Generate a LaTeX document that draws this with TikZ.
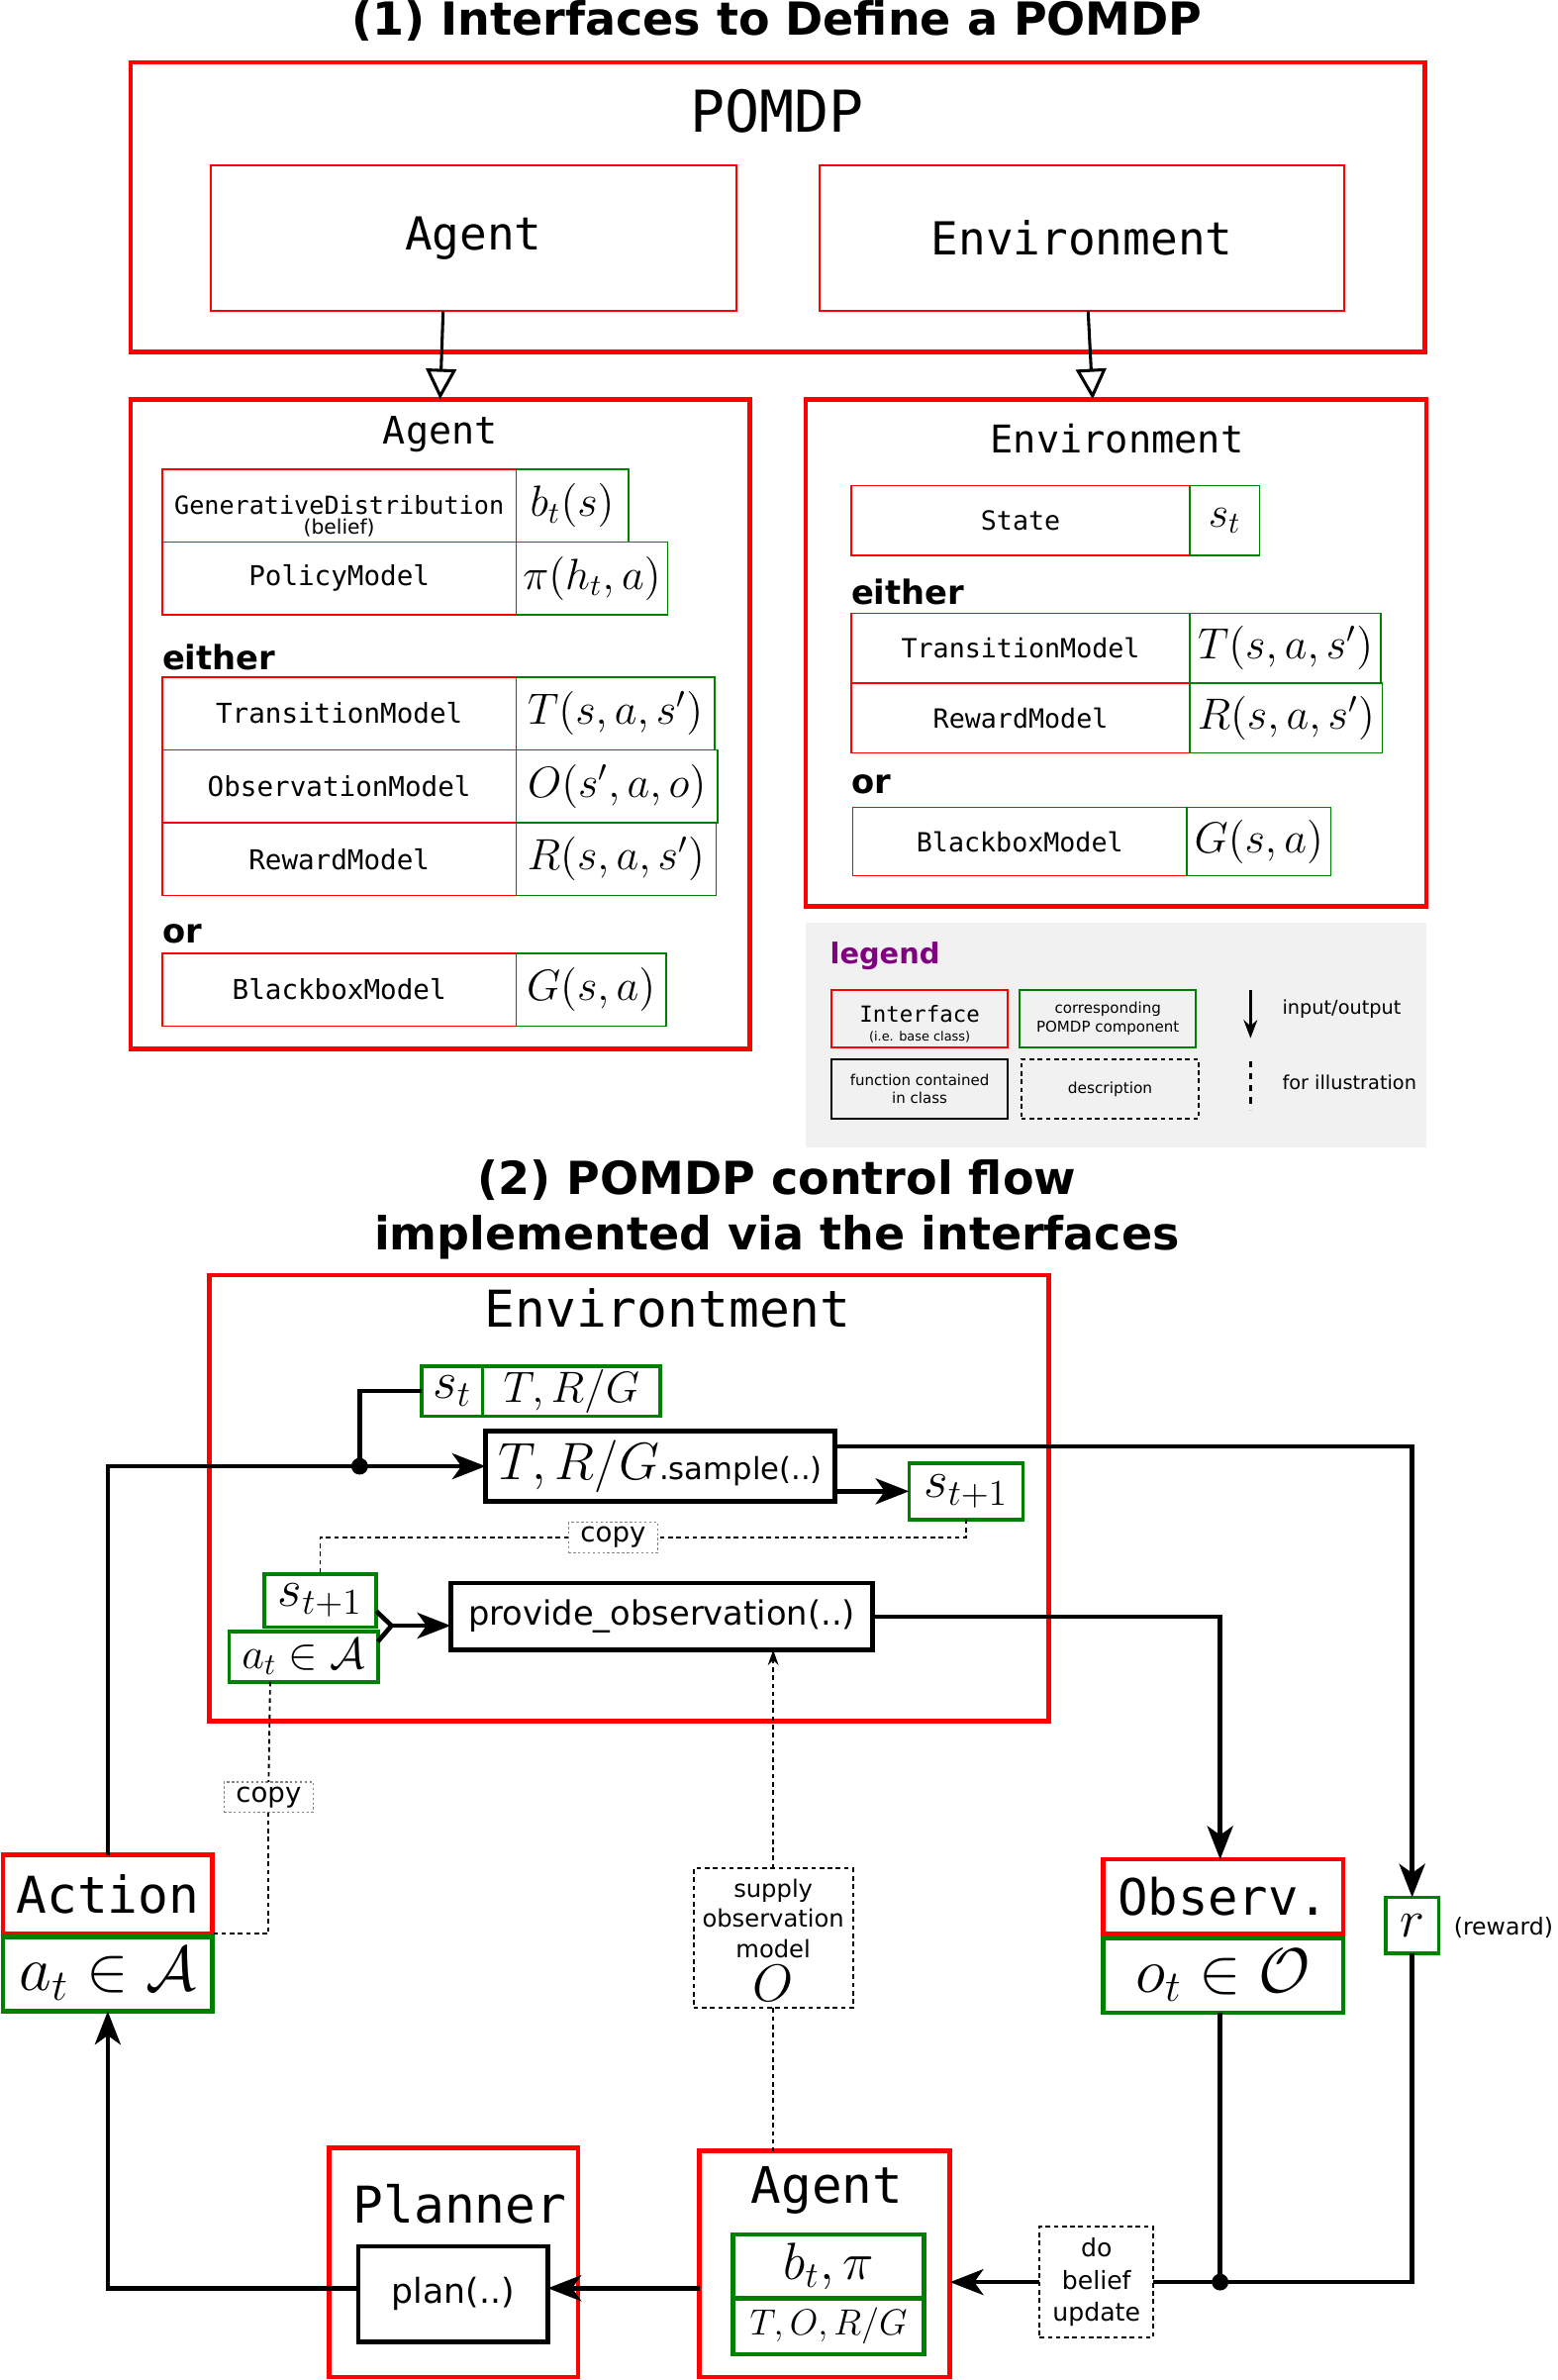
\documentclass[tikz,border=0pt]{standalone}
\usepackage{fontspec}
\setmainfont{DejaVu Sans}
\setmonofont{DejaVu Sans Mono}
\usepackage{tikz}
\usetikzlibrary{arrows.meta, positioning, calc}
\definecolor{compgreen}{rgb}{0, 0.5, 0}
\definecolor{legendpurple}{rgb}{0.5, 0, 0.5}
\definecolor{legendgray}{rgb}{0.945, 0.945, 0.945}
\newcommand{\fsz}[1]{\fontsize{#1}{#1}\selectfont}

\tikzset{
	bigcls/.style={draw=red, line width=1.5pt, anchor=north west},
	cls/.style={draw=red, line width=0.6pt, anchor=north west},
	iface/.style={draw=red, line width=0.5pt, anchor=north west, font=\ttfamily\fsz{9}},
	comp/.style={draw=compgreen, line width=0.5pt, anchor=west, font=\fsz{14}},
	func/.style={draw=black, line width=1.5pt, anchor=north west},
	var/.style={draw=compgreen, line width=1.2pt, anchor=north west},
	note/.style={draw=black, line width=0.6pt, dash pattern=on 1.5pt off 1.2pt, anchor=north west, align=center},
	copybox/.style={draw=gray, line width=0.4pt, dash pattern=on 0.8pt off 0.8pt, fill=white, font=\fsz{9}, minimum width=29.5pt, minimum height=10pt},
	word/.style={font=\bfseries\fsz{11}, anchor=west},
	flow/.style={line width=1.5pt},
	io/.style={flow, -{Stealth[length=11pt, width=8.5pt, inset=3pt]}},
	illus/.style={line width=0.6pt, dash pattern=on 1.5pt off 1.2pt},
	impl/.style={line width=1pt, -{Triangle[open, length=10pt, width=10pt]}}
}

\begin{document}
\begin{tikzpicture}[x=0.5pt, y=-0.5pt, every node/.style={inner sep=0pt, outer sep=0pt}]
\useasboundingbox (0,0) rectangle (1026,1568);

% (1) interfaces
\node[font=\bfseries\fsz{15}] (title1) at (512,14) {(1) Interfaces to Define a POMDP};

\node[bigcls, minimum width=426.5pt, minimum height=95.5pt] (pomdp) at (86,41) {};
\node[font=\ttfamily\fsz{19}] (pomdplbl) at (512,73) {POMDP};
\node[cls, minimum width=173pt, minimum height=48pt, font=\ttfamily\fsz{15}] (agentcls) at (139,109) {Agent};
\node[cls, minimum width=173pt, minimum height=48pt, font=\ttfamily\fsz{15}] (envcls) at (540,109) {Environment};

% agent interfaces
\node[bigcls, minimum width=204pt, minimum height=214pt] (agentbox) at (86,263) {};
\node[font=\ttfamily\fsz{12.5}] (agentlbl) at (290,286) {Agent};
\node[iface, minimum width=116.5pt, minimum height=24pt] (gendist) at (107,309) {};
\node[font=\ttfamily\fsz{8.2}] (gendistlbl) at ($(gendist.center)+(0,0)$) {GenerativeDistribution};
\node[font=\fsz{6.6}] (belieflbl) at ($(gendist.center)+(0,15)$) {(belief)};
\node[comp, minimum width=37pt, minimum height=24pt] (gendistc) at (gendist.east) {$b_t(s)$};
\node[iface, minimum width=116.5pt, minimum height=24pt] (policy) at (107,357) {PolicyModel};
\node[comp, minimum width=50pt, minimum height=24pt] (policyc) at (policy.east) {$\pi(h_t,a)$};
\node[word] (either1) at (107,433) {either};
\node[iface, minimum width=116.5pt, minimum height=24pt] (trans) at (107,446) {TransitionModel};
\node[comp, minimum width=65.5pt, minimum height=24pt] (transc) at (trans.east) {$T(s,a,s')$};
\node[iface, minimum width=116.5pt, minimum height=24pt] (obsm) at (107,494) {ObservationModel};
\node[comp, minimum width=66.5pt, minimum height=24pt] (obsmc) at (obsm.east) {$O(s',a,o)$};
\node[iface, minimum width=116.5pt, minimum height=24pt] (reward) at (107,542) {RewardModel};
\node[comp, minimum width=66pt, minimum height=24pt] (rewardc) at (reward.east) {$R(s,a,s')$};
\node[word] (or1) at (107,615) {or};
\node[iface, minimum width=116.5pt, minimum height=24pt] (bbox) at (107,628) {BlackboxModel};
\node[comp, minimum width=49.5pt, minimum height=24pt] (bboxc) at (bbox.east) {$G(s,a)$};

% environment interfaces
\node[bigcls, minimum width=204.5pt, minimum height=167pt] (envbox) at (531,263) {};
\node[font=\ttfamily\fsz{12.6}] (envlbl) at (736,289) {Environment};
\node[iface, minimum width=111.5pt, minimum height=23pt, font=\ttfamily\fsz{8.7}] (state) at (561,320) {State};
\node[comp, minimum width=23pt, minimum height=23pt] (statec) at (state.east) {$s_t$};
\node[word] (either2) at (561,390) {either};
\node[iface, minimum width=111.5pt, minimum height=23pt, font=\ttfamily\fsz{8.7}] (etrans) at (561,404) {TransitionModel};
\node[comp, minimum width=63pt, minimum height=23pt] (etransc) at (etrans.east) {$T(s,a,s')$};
\node[iface, minimum width=111.5pt, minimum height=23pt, font=\ttfamily\fsz{8.7}] (ereward) at (561,450) {RewardModel};
\node[comp, minimum width=63.5pt, minimum height=23pt] (erewardc) at (ereward.east) {$R(s,a,s')$};
\node[word] (or2) at (561,517) {or};
\node[iface, minimum width=110pt, minimum height=22.5pt, font=\ttfamily\fsz{8.7}] (ebbox) at (562,532) {BlackboxModel};
\node[comp, minimum width=47.5pt, minimum height=22.5pt] (ebboxc) at (ebbox.east) {$G(s,a)$};

\draw[impl] ($(agentcls.south)+(-20,0)$) -- (agentbox.north);
\draw[impl] ($(envcls.south)+(4,0)$) -- ($(envcls.south |- envbox.north)+(7,0)$);

% legend
\node[fill=legendgray, anchor=north west, minimum width=204.5pt, minimum height=74pt] (legendbg) at (531,608) {};
\node[font=\bfseries\fsz{9.4}, text=legendpurple, anchor=west] (legendlbl) at (547,630) {legend};
\node[cls, line width=0.7pt, minimum width=58pt, minimum height=19pt] (lgiface) at (548,652) {};
\node[font=\ttfamily\fsz{7.3}] (lgifacelbl) at ($(lgiface.center)+(0,-3)$) {Interface};
\node[font=\fsz{4.2}] (lgifacesub) at ($(lgiface.center)+(0,12)$) {(i.e. base class)};
\node[draw=compgreen, line width=0.7pt, anchor=north west, minimum width=58pt, minimum height=19pt, align=center, font=\fontsize{4.9}{6}\selectfont] (lgcomp) at (672,652)
	{corresponding\\POMDP component};
\node[draw=black, line width=0.7pt, anchor=north west, minimum width=58pt, minimum height=19.5pt, align=center, font=\fontsize{4.9}{6}\selectfont] (lgfunc) at (548,698)
	{function contained\\in class};
\node[note, minimum width=58.5pt, minimum height=19.5pt, font=\fsz{5}] (lgdesc) at (673,698) {description};
\coordinate (lgio) at (824,652);
\draw[line width=1pt, -{Stealth[length=6pt, width=4.5pt]}] (lgio) -- ++(0,32);
\node[font=\fsz{6.3}, anchor=west] (lgiolbl) at (845,665) {input/output};
\coordinate (lgill) at (824,699);
\draw[line width=1.2pt, dash pattern=on 2pt off 2pt] (lgill) -- ++(0,32);
\node[font=\fsz{6.3}, anchor=west] (lgilllbl) at (845,713) {for illustration};

% (2) control flow
\node[font=\bfseries\fontsize{15}{18.5}\selectfont, align=center] (title2) at (512,797)
	{(2) POMDP control flow\\implemented via the interfaces};

\node[bigcls, minimum width=276.5pt, minimum height=147pt] (envflow) at (138,840) {};
\node[font=\ttfamily\fsz{16.7}] (envflowlbl) at (440,862) {Environtment};
\node[var, minimum width=20pt, minimum height=16.5pt, font=\fsz{18}] (st) at (278,900) {$s_t$};
\node[var, minimum width=58.5pt, minimum height=16.5pt, font=\fsz{15}] (trg) at (318,900) {$T,R/G$};
\node[func, minimum width=115pt, minimum height=23pt, font=\fsz{17}] (sample) at (320,943) {$T,R/G$\fsz{10}.sample(..)};
\node[var, minimum width=37.5pt, minimum height=18.5pt, font=\fsz{18}] (stp) at (599,964) {$s_{t+1}$};
\node[copybox] (copy1) at (404,1013) {copy};
\node[var, minimum width=37pt, minimum height=17.5pt, font=\fsz{18}] (stp2) at (174,1037) {$s_{t+1}$};
\node[var, minimum width=49pt, minimum height=16.5pt, font=\fsz{14}] (at2) at (151,1075) {$a_t\in\mathcal{A}$};
\node[func, minimum width=139pt, minimum height=22pt, font=\fsz{11}] (provide) at (297,1043) {provide\_observation(..)};

\node[bigcls, minimum width=69pt, minimum height=26pt, font=\ttfamily\fsz{16.7}] (action) at (2,1222) {Action};
\node[var, line width=1.5pt, minimum width=69pt, minimum height=24.5pt, font=\fsz{19.5}] (atA) at (2,1276) {$a_t\in\mathcal{A}$};
\node[copybox] (copy2) at (177,1184) {copy};
\node[note, minimum width=52.5pt, minimum height=46pt] (supply) at (457,1231) {};
\node[font=\fontsize{7.9}{10}\selectfont, align=center] (supplylbl) at ($(supply.north)+(0,33)$) {supply\\observation\\model};
\node[font=\fsz{16}] (supplyO) at ($(supply.south)+(0,-16)$) {$O$};
\node[bigcls, minimum width=79pt, minimum height=24.5pt, font=\ttfamily\fsz{16.5}] (observ) at (727,1225) {Observ.};
\node[var, line width=1.5pt, minimum width=79pt, minimum height=24.5pt, font=\fsz{20}] (otO) at (727,1277) {$o_t\in\mathcal{O}$};
\node[var, minimum width=17.5pt, minimum height=18.5pt, font=\fsz{18}] (rbox) at (913,1250) {$r$};
\node[font=\fsz{7.7}, anchor=west] (rlbl) at (958,1270) {(reward)};

\node[bigcls, minimum width=82pt, minimum height=75.5pt] (planner) at (217,1415) {};
\node[font=\ttfamily\fsz{16.7}] (plannerlbl) at (303,1452) {Planner};
\node[func, minimum width=62.5pt, minimum height=31.5pt, font=\fsz{11.3}] (plan) at (236,1480) {plan(..)};
\node[bigcls, minimum width=82.5pt, minimum height=74.5pt] (agentfl) at (461,1417) {};
\node[font=\ttfamily\fsz{16.6}] (agentfllbl) at (545,1443) {Agent};
\node[var, line width=1.5pt, minimum width=63pt, minimum height=21pt, font=\fsz{17}] (btpi) at (483,1472) {$b_t,\pi$};
\node[var, line width=1.5pt, minimum width=63pt, minimum height=18.5pt, font=\fsz{12.5}] (tor) at (483,1514) {$T,O,R/G$};
\node[note, minimum width=37.5pt, minimum height=36.5pt, font=\fontsize{8.2}{10.5}\selectfont] (belief) at (685,1467) {do\\belief\\update};

% flow of the loop
\coordinate (split) at ($(sample.west)+(-83,0)$);
\draw[io] (action.north) |- (sample.west);
\draw[flow] (split) |- (st.west);
\fill (split) circle (5.5);
\draw[io] ($(sample.north east)+(0,10)$) -| (rbox.north);
\draw[io] (sample.east |- stp.west) -- (stp.west);
\draw[illus] (stp.south) |- (copy1.east);
\draw[illus] (copy1.west) -| (stp2.north);
\coordinate (merge) at ($(provide.west)+(-39,6)$);
\draw[flow] ($(stp2.east)+(0,7)$) -- (merge) -- ($(at2.east)+(0,-10)$);
\draw[io] (merge) -- (merge -| provide.west);
\draw[io] (provide.east) -| ($(observ.north)+(-2,0)$);
\draw[illus] ($(at2.south west)+(27,0)$) -- (copy2.north);
\draw[illus] (copy2.south) |- (action.south east);
\draw[illus, -{Stealth[length=5pt, width=3.5pt]}] (supply.north) -- (supply.north |- provide.south);
\draw[illus] (supply.south) -- (supply.south |- agentfl.north);
\coordinate (bdot) at ($(otO.south |- belief.east)+(-2,0)$);
\draw[flow] (bdot |- otO.south) -- (bdot);
\draw[flow] (rbox.south) |- (bdot);
\fill (bdot) circle (5.5);
\draw[flow] (bdot) -- (belief.east);
\draw[io] (belief.west) -- (belief.west -| agentfl.east);
\draw[io] ($(agentfl.west |- plan.east)+(0,-4)$) -- ($(plan.east)+(0,-4)$);
\draw[io] ($(plan.west)+(0,-4)$) -| (atA.south);

\end{tikzpicture}
\end{document}
